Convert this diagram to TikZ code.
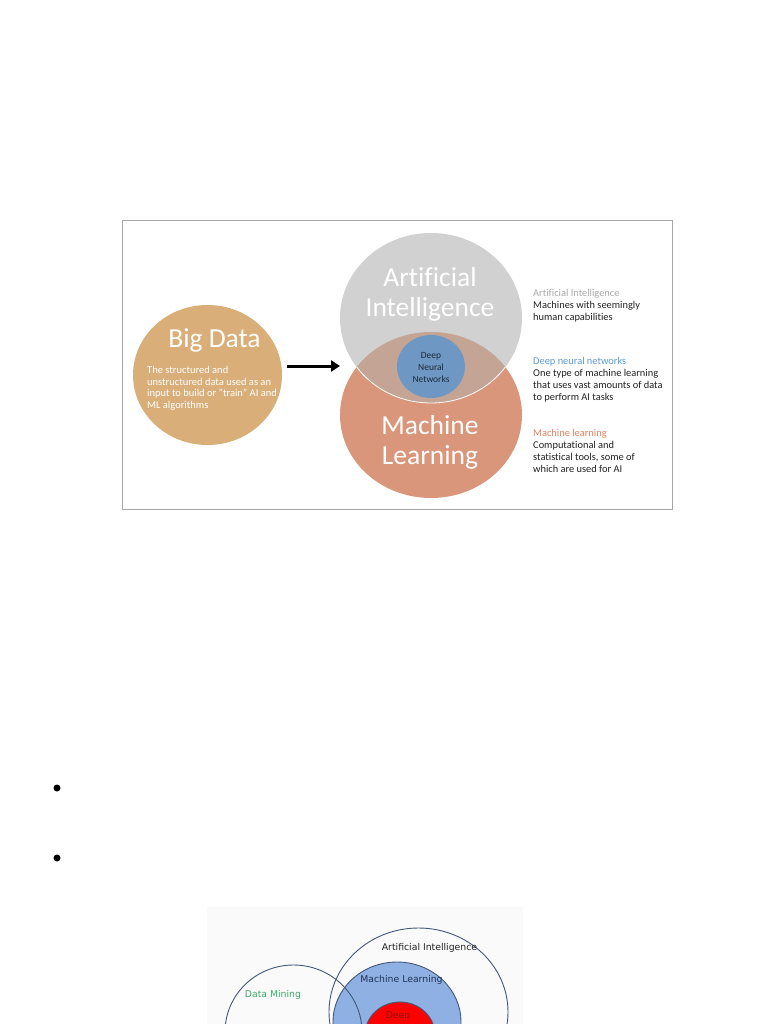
\documentclass[tikz,border=0pt]{standalone}
\usepackage{fontspec}
\setmainfont{Carlito}[Ligatures={NoCommon}]
\newfontfamily\dvs{DejaVu Sans}
\usetikzlibrary{shapes.geometric,arrows.meta}
\definecolor{bdcol}{HTML}{D9AE78}
\definecolor{aicol}{HTML}{D1D1D1}
\definecolor{mlcol}{HTML}{D9967A}
\definecolor{lenscol}{HTML}{C4A494}
\definecolor{dnncol}{HTML}{6E98C3}
\definecolor{framecol}{HTML}{A6A6A6}
\definecolor{txtdark}{HTML}{222222}
\definecolor{labgrey}{HTML}{ABABAB}
\definecolor{labblue}{HTML}{5B9BD5}
\definecolor{laborange}{HTML}{E4805E}
\definecolor{dnntxt}{HTML}{1E2A3A}
\definecolor{edgecol}{HTML}{44587A}
\definecolor{mlblue}{HTML}{8EB0E2}
\definecolor{dmgreen}{HTML}{3DAA6A}
\definecolor{mlnavy}{HTML}{1F3458}
\definecolor{dltxt}{HTML}{8B1010}
\tikzset{
  blob/.style={ellipse, draw=none, inner sep=0pt, outer sep=0pt},
  ring/.style={ellipse, draw=edgecol, line width=0.9pt, inner sep=0pt, outer sep=0pt},
  bigtitle/.style={text=white, font=\fontsize{27.5}{33}\selectfont, anchor=base, inner sep=0pt},
  bdtext/.style={text=white, font=\fontsize{10.5}{12}\selectfont, anchor=base west, inner sep=0pt},
  sidehead/.style={font=\fontsize{10.4}{12}\selectfont, anchor=base west, inner sep=0pt},
  sidebody/.style={text=txtdark, font=\fontsize{10.4}{12}\selectfont, anchor=base west, inner sep=0pt},
  dnnlabel/.style={text=dnntxt, font=\fontsize{9.5}{11}\selectfont, anchor=base, inner sep=0pt},
  smalllabel/.style={font=\dvs\fontsize{9.3}{11}\selectfont, anchor=base, inner sep=0pt},
  bigarrow/.style={line width=3pt, -{Triangle[length=9pt,width=11pt]}},
  bulletdot/.style={circle, fill=black, inner sep=0pt, minimum size=7pt}
}
\begin{document}
\begin{tikzpicture}[x=1pt,y=-1pt]
\useasboundingbox (0,0) rectangle (768,1024);
\fill[white] (0,0) rectangle (768,1024);

% ---------- top figure ----------
\node[draw=framecol, line width=1pt, minimum width=550pt, minimum height=288pt, inner sep=0pt] (frame) at (397,365) {};

\node[blob, fill=bdcol, minimum width=149pt, minimum height=140pt] (bd) at (207.5,375) {};
\node[blob, fill=mlcol, minimum width=182pt, minimum height=166pt] (ml) at (431,415) {};
\node[blob, fill=aicol, minimum width=182pt, minimum height=170pt] (ai) at (431,318) {};
\begin{scope}
  \clip (ml.center) ellipse [x radius=91, y radius=83];
  \fill[lenscol] (ai.center) ellipse [x radius=91, y radius=85];
  \draw[white, line width=0.8pt] (ai.center) ellipse [x radius=91, y radius=85];
\end{scope}
\node[blob, fill=dnncol, minimum width=68pt, minimum height=63pt] (dnn) at (431,366.5) {};

\node[bigtitle] (bdt) at (214.5,347) {Big Data};
\node[bdtext] (bd1) at (147,373) {The structured and};
\node[bdtext] (bd2) at (147,385) {unstructured data used as an};
\node[bdtext] (bd3) at (147,396.5) {input to build or ''train'' AI and};
\node[bdtext] (bd4) at (147,408) {ML algorithms};

\node[bigtitle] (ai1) at (430,286) {Artificial};
\node[bigtitle] (ai2) at (430,316) {Intelligence};
\node[bigtitle] (ml1) at (430,434) {Machine};
\node[bigtitle] (ml2) at (430,464) {Learning};

\node[dnnlabel] (d1) at (431,358.5) {Deep};
\node[dnnlabel] (d2) at (431,370.5) {Neural};
\node[dnnlabel] (d3) at (431,382.5) {Networks};

\coordinate (arrS) at (287,366);
\coordinate (arrE) at (340,366);
\draw[bigarrow] (arrS) -- (arrE);

\node[sidehead, text=labgrey] (h1) at (533,296) {Artificial Intelligence};
\node[sidebody] (b11) at (533,308.5) {Machines with seemingly};
\node[sidebody] (b12) at (533,320.5) {human capabilities};
\node[sidehead, text=labblue] (h2) at (533,364) {Deep neural networks};
\node[sidebody] (b21) at (533,376.5) {One type of machine learning};
\node[sidebody] (b22) at (533,388.5) {that uses vast amounts of data};
\node[sidebody] (b23) at (533,400.5) {to perform AI tasks};
\node[sidehead, text=laborange] (h3) at (533,436) {Machine learning};
\node[sidebody] (b31) at (533,448.5) {Computational and};
\node[sidebody] (b32) at (533,460.5) {statistical tools, some of};
\node[sidebody] (b33) at (533,472.5) {which are used for AI};

% ---------- bullets ----------
\node[bulletdot] (bul1) at (57,788) {};
\node[bulletdot] (bul2) at (57,858) {};

% ---------- bottom figure ----------
\begin{scope}
\clip (0,0) rectangle (768,1024);
\fill[black!2] (207,907) rectangle (523,1024);
\node[ring, minimum width=179pt, minimum height=168pt] (aiB) at (418.5,1012) {};
\node[ring, fill=mlblue, minimum width=128pt, minimum height=120pt] (mlB) at (397,1022) {};
\node[ring, fill=red, minimum width=70pt, minimum height=66pt] (dlB) at (400,1035) {};
\node[ring, minimum width=137pt, minimum height=134pt] (dmB) at (293.5,1032) {};
\node[smalllabel, text=txtdark] (aiBt) at (429.5,950.5) {Artificial Intelligence};
\node[smalllabel, text=mlnavy] (mlBt) at (401.5,982.5) {Machine Learning};
\node[smalllabel, text=dmgreen] (dmBt) at (273,997.5) {Data Mining};
\node[smalllabel, text=dltxt] (dlBt1) at (398,1018.5) {Deep};
\node[smalllabel, text=dltxt] (dlBt2) at (398,1031.5) {Learning};
\end{scope}
\end{tikzpicture}
\end{document}
